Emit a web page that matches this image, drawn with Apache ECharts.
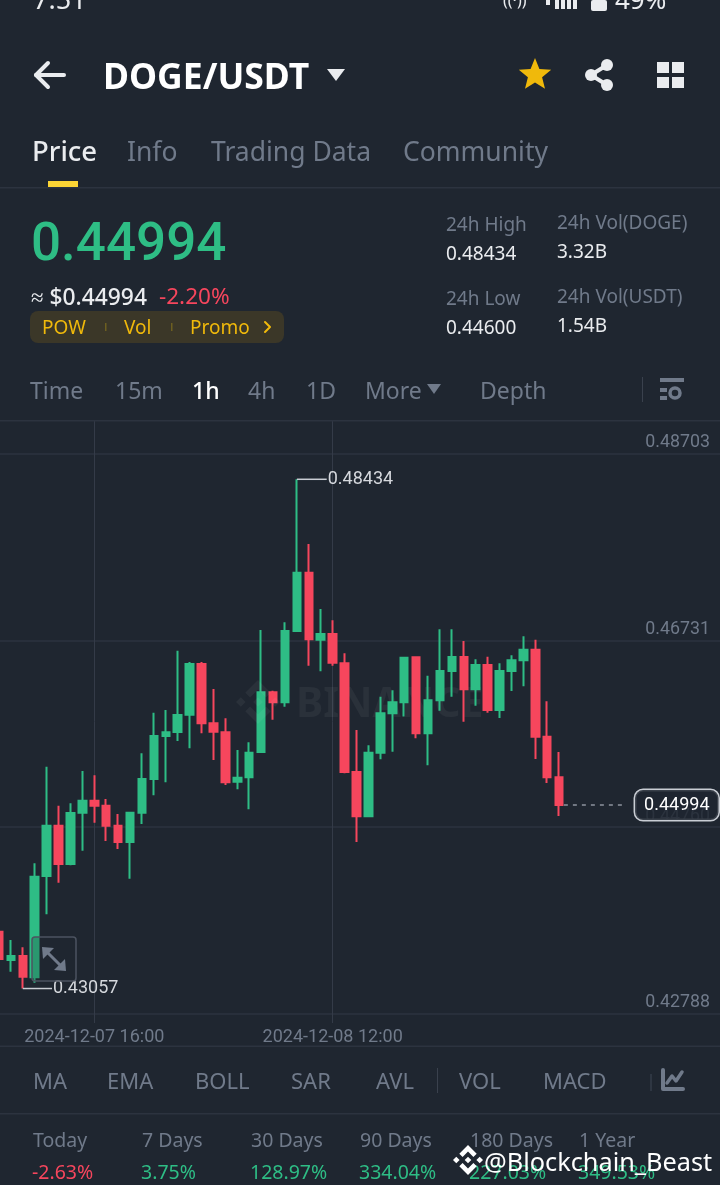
<!DOCTYPE html>
<html>
<head>
    <meta charset="utf-8">
    <title>DOGE/USDT</title>
    <script src="https://cdn.jsdelivr.net/npm/echarts@6/dist/echarts.min.js"></script>
    <style>
        html, body { margin: 0; padding: 0; background: #1f2630; }
    </style>
</head>
<body>
    <div id="main" style="width: 720px;height:1185px;"></div>
    <script type="text/javascript">
// hourly candles
var times = [
    '2024-12-07 08:00','2024-12-07 09:00','2024-12-07 10:00','2024-12-07 11:00','2024-12-07 12:00','2024-12-07 13:00',
    '2024-12-07 14:00','2024-12-07 15:00','2024-12-07 16:00','2024-12-07 17:00','2024-12-07 18:00','2024-12-07 19:00',
    '2024-12-07 20:00','2024-12-07 21:00','2024-12-07 22:00','2024-12-07 23:00','2024-12-08 00:00','2024-12-08 01:00',
    '2024-12-08 02:00','2024-12-08 03:00','2024-12-08 04:00','2024-12-08 05:00','2024-12-08 06:00','2024-12-08 07:00',
    '2024-12-08 08:00','2024-12-08 09:00','2024-12-08 10:00','2024-12-08 11:00','2024-12-08 12:00','2024-12-08 13:00',
    '2024-12-08 14:00','2024-12-08 15:00','2024-12-08 16:00','2024-12-08 17:00','2024-12-08 18:00','2024-12-08 19:00',
    '2024-12-08 20:00','2024-12-08 21:00','2024-12-08 22:00','2024-12-08 23:00','2024-12-09 00:00','2024-12-09 01:00',
    '2024-12-09 02:00','2024-12-09 03:00','2024-12-09 04:00','2024-12-09 05:00','2024-12-09 06:00','2024-12-09 07:00'
];
var opens = [
    0.43657,0.43358,0.43400,0.43176,0.44245,0.44776,0.44372,0.44914,0.45040,0.44987,0.44776,0.44604,
    0.44914,0.45269,0.45723,0.45766,0.45948,0.46484,0.45858,0.45762,0.45241,0.45287,0.45554,0.46185,
    0.46079,0.46832,0.47448,0.46740,0.46800,0.46491,0.45343,0.44875,0.45547,0.45963,0.46079,0.46555,
    0.45752,0.46100,0.46410,0.46558,0.46217,0.46473,0.45998,0.46410,0.46523,0.46635,0.45716,0.45287
];
var closes = [
    0.43369,0.43400,0.43182,0.44238,0.44776,0.44372,0.44910,0.45040,0.44987,0.44776,0.44604,0.44914,
    0.45269,0.45723,0.45762,0.45945,0.46484,0.45858,0.45769,0.45235,0.45283,0.45547,0.46185,0.46079,
    0.46832,0.47448,0.46744,0.46800,0.46497,0.45343,0.44875,0.45547,0.45963,0.46079,0.46550,0.45752,
    0.46100,0.46410,0.46558,0.46217,0.46473,0.45998,0.46410,0.46523,0.46635,0.45716,0.45287,0.44994
];
var lows = [
    0.43182,0.43235,0.43057,0.43118,0.43841,0.44174,0.44358,0.44512,0.44808,0.44615,0.44530,0.44217,
    0.44794,0.45097,0.45235,0.45671,0.45594,0.45752,0.45470,0.45206,0.45161,0.44949,0.45554,0.45896,
    0.46033,0.46824,0.46466,0.46407,0.46466,0.45330,0.44604,0.44875,0.45477,0.45558,0.45929,0.45699,
    0.45414,0.45991,0.46138,0.45874,0.46043,0.45969,0.45913,0.46199,0.46248,0.45481,0.45227,0.44879
];
var highs = [
    0.43675,0.43569,0.43492,0.44379,0.45399,0.44987,0.45013,0.45354,0.45308,0.45058,0.44900,0.44924,
    0.45541,0.45969,0.45998,0.46624,0.46505,0.46505,0.46220,0.45910,0.45576,0.45657,0.46843,0.46202,
    0.46924,0.48434,0.47751,0.47064,0.46945,0.46597,0.45787,0.45625,0.46138,0.46206,0.46561,0.46561,
    0.46360,0.46850,0.46850,0.46727,0.46533,0.46561,0.46491,0.46575,0.46776,0.46740,0.46090,0.45554
];
var yTicks = [0.48703, 0.46731, 0.44760, 0.42788];
var xLabelSlots = [8, 28];
var highMark = 0.48434, lowMark = 0.43057, lastPrice = 0.44994;

var tabs = ['Price', 'Info', 'Trading Data', 'Community'];
var periods = ['Time', '15m', '1h', '4h', '1D', 'More', 'Depth'];
var indicators = ['MA', 'EMA', 'BOLL', 'SAR', 'AVL', 'VOL', 'MACD'];
var spans = ['Today', '7 Days', '30 Days', '90 Days', '180 Days', '1 Year'];
var spanValues = ['-2.63%', '3.75%', '128.97%', '334.04%', '227.03%', '349.53%'];

var BG = '#1f2630', GREEN = '#2ebd85', RED = '#f6465d', GREY = '#707a8a', WHITE = '#eaecef', LINE = '#2c333f', GOLD = '#f0b90b';
var FONT = '"Noto Sans"', NUM = 'Roboto';

// empty slots to the right of the last candle
var categories = times.slice();
for (var n = 0; n < 13; n++) { categories.push(''); }

var candles = [];
for (var i = 0; i < times.length; i++) {
    candles.push([opens[i], closes[i], lows[i], highs[i]]);
}

// ---- helpers for the app chrome around the chart
var els = [];
function txt(x, y, s, size, color, o) {
    o = o || {};
    els.push({
        type: 'text', z: o.z || 5, silent: true,
        style: {
            // 'middle' sits a little high with these fonts
            text: s, x: x, y: y + size * 0.09, fill: color, fontSize: size, opacity: o.opacity == null ? 1 : o.opacity,
            fontFamily: o.font || FONT, fontWeight: o.weight || 'normal',
            align: o.align || 'left', verticalAlign: 'middle',
            shadowBlur: o.shadow || 0, shadowColor: '#000'
        }
    });
}
function rect(x, y, w, h, color, r, z) {
    els.push({ type: 'rect', z: z || 5, silent: true, shape: { x: x, y: y, width: w, height: h, r: r || 0 }, style: { fill: color } });
}
function poly(pts, color, z) {
    els.push({ type: 'polygon', z: z || 5, silent: true, shape: { points: pts }, style: { fill: color } });
}
function pline(pts, color, w, z) {
    els.push({ type: 'polyline', z: z || 5, silent: true, shape: { points: pts }, style: { stroke: color, fill: null, lineWidth: w, lineJoin: 'round', lineCap: 'round' } });
}
function circle(x, y, r, color) {
    els.push({ type: 'circle', z: 5, silent: true, shape: { cx: x, cy: y, r: r }, style: { fill: color } });
}
function logo(cx, cy, s, color, z) {
    poly([[cx - .22 * s, cy], [cx, cy - .22 * s], [cx + .22 * s, cy], [cx, cy + .22 * s]], color, z);
    poly([[cx - s, cy], [cx - .78 * s, cy - .22 * s], [cx - .56 * s, cy], [cx - .78 * s, cy + .22 * s]], color, z);
    poly([[cx + s, cy], [cx + .78 * s, cy - .22 * s], [cx + .56 * s, cy], [cx + .78 * s, cy + .22 * s]], color, z);
    [-1, 1].forEach(function (d) {
        poly([[cx, cy + d * s], [cx + .58 * s, cy + d * .42 * s], [cx + .36 * s, cy + d * .2 * s], [cx, cy + d * .56 * s], [cx - .36 * s, cy + d * .2 * s], [cx - .58 * s, cy + d * .42 * s]], color, z);
    });
}

// status bar, cut off by the screenshot
txt(33, -1, '7:51', 27, WHITE);
txt(503, 0, '((·))', 16, WHITE);
[[546, 5], [555, 9], [561, 9], [567, 9], [573, 9]].forEach(function (b) { rect(b[0], 0, 4, b[1], WHITE); });
rect(591, 0, 16, 11, WHITE, 2);
txt(615, -1, '49%', 26, WHITE);

// header
pline([[48, 63], [36, 75], [48, 87]], WHITE, 4);
pline([[36, 75], [64, 75]], WHITE, 4);
txt(103, 76, 'DOGE/USDT', 35.5, '#ffffff', { weight: 'bold' });
poly([[327, 69], [345, 69], [336, 81]], WHITE);
poly([[535, 58], [539.4, 68.9], [551.2, 69.7], [542.1, 77.3], [545, 88.8], [535, 82.5], [525, 88.8], [527.9, 77.3], [518.8, 69.7], [530.6, 68.9]], GOLD);
pline([[607, 65], [591, 75], [607, 85]], WHITE, 4);
circle(607, 65, 6, WHITE); circle(591, 75, 6, WHITE); circle(607, 85, 6, WHITE);
rect(657, 62, 12, 11, WHITE); rect(672, 62, 12, 11, WHITE); rect(657, 77, 12, 11, WHITE); rect(672, 77, 12, 11, WHITE);

// tabs
var tabX = [32, 127, 211, 403];
tabs.forEach(function (t, k) { txt(tabX[k], 151, t, k === 0 ? 27.5 : 26.5, k === 0 ? WHITE : GREY, { weight: k === 0 ? 500 : 'normal' }); });
rect(48, 181, 30, 6, '#fcd535');
rect(0, 187, 720, 1.5, LINE);

// price block
txt(31, 242, '0.44994', 53, GREEN, { font: NUM, weight: 500 });
txt(31, 296, '≈ $0.44994', 22.8, WHITE, { weight: 500 });
txt(159, 296, '-2.20%', 22.5, RED);
rect(30, 311, 254, 32, '#3b3728', 8);
txt(42, 327, 'POW', 19, GOLD); txt(124, 327, 'Vol', 19, GOLD); txt(190, 327, 'Promo', 19, GOLD);
rect(105, 323, 1.5, 8, '#6d5f20'); rect(171, 323, 1.5, 8, '#6d5f20');
pline([[265, 322], [270, 327], [265, 332]], GOLD, 2);
txt(446, 224, '24h High', 19, GREY); txt(446, 253, '0.48434', 19, WHITE);
txt(557, 222, '24h Vol(DOGE)', 19, GREY); txt(557, 251, '3.32B', 19, WHITE);
txt(446, 298, '24h Low', 19, GREY); txt(446, 327, '0.44600', 19, WHITE);
txt(557, 296, '24h Vol(USDT)', 19, GREY); txt(557, 325, '1.54B', 19, WHITE);

// period selector
var periodX = [30, 115, 192, 248, 306, 365, 480];
periods.forEach(function (p, k) { txt(periodX[k], 390, p, 23, k === 2 ? '#ffffff' : GREY, { weight: k === 2 ? 500 : 'normal' }); });
poly([[427, 384], [441, 384], [434, 394]], GREY);
rect(642, 377, 1, 25, '#3a414d');
rect(660, 378, 24, 4, GREY); rect(660, 388, 7, 4, GREY); rect(660, 396, 7, 4, GREY);
els.push({ type: 'circle', z: 5, silent: true, shape: { cx: 675, cy: 393, r: 5 }, style: { fill: null, stroke: GREY, lineWidth: 3.5 } });
rect(0, 420, 720, 1.5, LINE);

// watermark under the candles
logo(258, 702, 22, 'rgba(255,255,255,0.05)', 0);
txt(296, 702, 'BINANCE', 41, 'rgba(255,255,255,0.05)', { weight: 'bold', z: 1 });

// expand button on top of the candles
els.push({ type: 'rect', z: 10, silent: true, shape: { x: 32, y: 937, width: 44, height: 44, r: 3 }, style: { fill: 'rgba(31,38,48,0.25)', stroke: '#4c5360', lineWidth: 1.5 } });
poly([[42, 947], [54, 948], [43, 959]], GREY, 11);
poly([[66, 971], [65, 959], [54, 970]], GREY, 11);
pline([[46, 951], [62, 967]], GREY, 3, 11);

// indicators row
rect(0, 1045.5, 720, 1.5, LINE);
var indX = [33, 107, 195, 291, 376, 459, 543];
indicators.forEach(function (t, k) { txt(indX[k], 1081, t, 22, GREY); });
rect(437, 1068, 1, 25, '#3a414d');
rect(650, 1074, 2, 17, 'rgba(112,122,138,0.2)');
pline([[663, 1070], [663, 1089], [683, 1089]], GREY, 4);
pline([[667, 1083], [672, 1076], [676, 1081], [682, 1072]], GREY, 3.5);
rect(0, 1113, 720, 1.5, LINE);

// period returns
var spanX = [33, 142, 251, 360, 470, 579];
spans.forEach(function (t, k) { txt(spanX[k], 1140, t, 19.5, GREY); });
spanValues.forEach(function (t, k) { txt(k === 0 ? 32 : spanX[k] - 1, 1172, t, 19.5, k === 0 ? RED : GREEN); });
logo(468, 1160, 15, '#ffffff', 12);
txt(484, 1162, '@Blockchain_Beast', 25.3, '#ffffff', { z: 12, shadow: 4 });

var myChart = echarts.init(document.getElementById('main'));

var leader = { type: 'line', xAxisIndex: 1, yAxisIndex: 0, showSymbol: false, symbol: 'none', clip: false, silent: true, z: 3 };
function priceLabel(v) { return v.value[1].toFixed(5); }

var option = {
    animation: false,
    backgroundColor: BG,
    graphic: { elements: els },
    // the first candle hangs off the left edge
    grid: { left: -7, right: 0, top: 420, height: 603, outerBoundsMode: 'none' },
    xAxis: [
        {
            type: 'category', data: categories,
            axisLine: { show: false }, axisTick: { show: false },
            axisLabel: {
                color: GREY, fontSize: 18, fontFamily: NUM, margin: 5,
                interval: function (idx) { return xLabelSlots.indexOf(idx) >= 0; }
            },
            splitLine: {
                show: true, alignWithLabel: true, lineStyle: { color: '#343b48', width: 1 },
                interval: function (idx) { return xLabelSlots.indexOf(idx) >= 0; }
            }
        },
        // same width as the category axis, lets the leader lines end between candles
        { type: 'value', min: -0.5, max: 60.5, show: false, splitLine: { show: false } }
    ],
    yAxis: {
        type: 'value', position: 'right', scale: true,
        min: 0.42693, max: 0.49060,
        axisLine: { show: false },
        axisTick: { show: false, customValues: yTicks },
        axisLabel: {
            inside: true, margin: 10, color: GREY, fontSize: 17.8, fontFamily: NUM,
            verticalAlign: 'bottom', padding: [0, 0, 2, 0], customValues: yTicks,
            formatter: function (v) { return v.toFixed(5); }
        },
        splitLine: { show: true, lineStyle: { color: LINE, width: 1.5 } }
    },
    series: [
        {
            type: 'candlestick', xAxisIndex: 0, yAxisIndex: 0, data: candles,
            barWidth: 8, z: 2,
            itemStyle: { color: GREEN, color0: RED, borderColor: GREEN, borderColor0: RED, borderWidth: 2 }
        },
        Object.assign({}, leader, {
            data: [[25, highMark], [27.5, highMark]],
            lineStyle: { color: '#c9cdd4', width: 1.5 },
            endLabel: { show: true, distance: 1, color: '#d5d8dd', fontSize: 18, fontFamily: NUM, formatter: priceLabel }
        }),
        Object.assign({}, leader, {
            data: [[2, lowMark], [4.45, lowMark]],
            lineStyle: { color: '#c9cdd4', width: 1.5 },
            endLabel: { show: true, distance: 1, color: '#d5d8dd', fontSize: 18, fontFamily: NUM, formatter: priceLabel }
        }),
        Object.assign({}, leader, {
            data: [[47.4, lastPrice], [52.45, lastPrice]],
            lineStyle: { color: '#8d939d', width: 1.5, type: [4, 5] },
            endLabel: {
                show: true, distance: 11, color: '#ffffff', fontSize: 18, fontFamily: NUM, formatter: priceLabel,
                borderColor: '#c9cdd4', borderWidth: 1.5, borderRadius: 8, padding: [6, 9],
                backgroundColor: 'rgba(31,38,48,0.85)'
            }
        })
    ]
};

myChart.setOption(option);
    </script>
</body>
</html>
